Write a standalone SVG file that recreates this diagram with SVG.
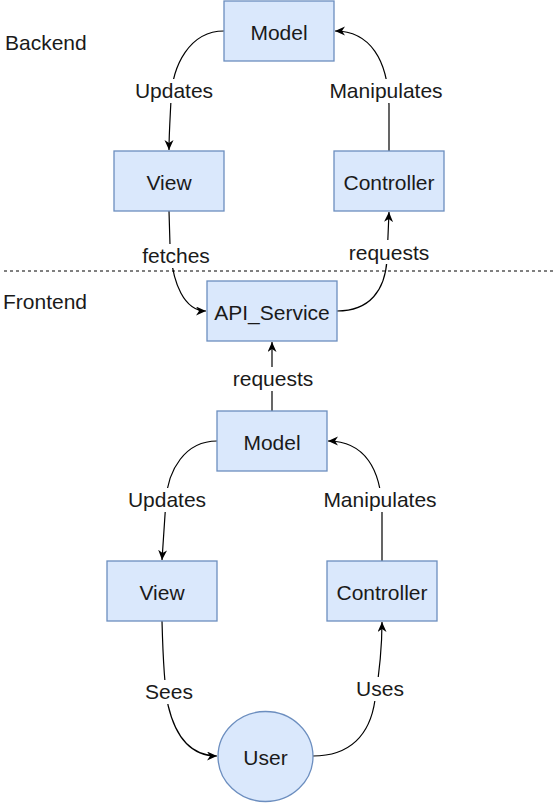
<svg xmlns="http://www.w3.org/2000/svg" width="557" height="803" viewBox="0 0 557 803">
<style>
.node{fill:#dae8fc;stroke:#6c8ebf;stroke-width:1.3}
.t{font-family:"Liberation Sans",Arial,sans-serif;font-size:21px;fill:#1a1a1a;text-anchor:middle}
.tl{font-family:"Liberation Sans",Arial,sans-serif;font-size:21px;fill:#1a1a1a}
.e{fill:none;stroke:#000;stroke-width:1.2;marker-end:url(#arr)}
.lb{fill:#fff}
</style>
<defs>
<marker id="arr" markerUnits="userSpaceOnUse" markerWidth="12" markerHeight="10" refX="10" refY="4.5" orient="auto" viewBox="0 0 12 10">
<path d="M0,0 L10,4.5 L0,9 L3,4.5 Z" fill="#000"/>
</marker>
</defs>
<rect width="557" height="803" fill="#fff"/>
<line x1="4" y1="271" x2="553" y2="271" stroke="#000" stroke-width="1" stroke-dasharray="3,3"/>
<text class="tl" x="5" y="50">Backend</text>
<text class="tl" x="3" y="309">Frontend</text>
<g id="connectors">
<path class="e" d="M224,31 C190,31 172,65 171,100 C170,120 169,135 169,150"/>
<path class="e" d="M389,151 L389,105 C388,60 370,31 335,31"/>
<path class="e" d="M169,211 L170,245 C172,285 185,311 206,311"/>
<path class="e" d="M337,311 C370,311 385,290 387,260 L389,212"/>
<path class="e" d="M272,411 L272,342"/>
<path class="e" d="M217,441 C185,441 168,470 166,500 L162,560"/>
<path class="e" d="M382,561 L382,510 C381,470 365,441 328,441"/>
<path class="e" d="M162,621 C163,660 165,690 168,705 C175,735 190,756 217,756"/>
<path class="e" d="M313,756 C350,756 370,735 375,700 C379,675 382,650 382,622"/>
<g id="lbl-updates-top"><rect class="lb" x="134" y="79" width="81" height="24"/><text class="t" x="174" y="98">Updates</text></g>
<g id="lbl-manip-top"><rect class="lb" x="328" y="79" width="117" height="24"/><text class="t" x="386" y="98">Manipulates</text></g>
<g id="lbl-fetches"><rect class="lb" x="140" y="244" width="72" height="24"/><text class="t" x="176" y="263">fetches</text></g>
<g id="lbl-requests-r"><rect class="lb" x="347" y="240" width="84" height="24"/><text class="t" x="389" y="260">requests</text></g>
<g id="lbl-requests-m"><rect class="lb" x="231" y="367" width="84" height="24"/><text class="t" x="273" y="386">requests</text></g>
<g id="lbl-updates-bot"><rect class="lb" x="127" y="488" width="81" height="24"/><text class="t" x="167" y="507">Updates</text></g>
<g id="lbl-manip-bot"><rect class="lb" x="321" y="488" width="117" height="24"/><text class="t" x="380" y="507">Manipulates</text></g>
<g id="lbl-sees"><rect class="lb" x="143" y="680" width="52" height="24"/><text class="t" x="169" y="699">Sees</text></g>
<g id="lbl-uses"><rect class="lb" x="354" y="677" width="52" height="24"/><text class="t" x="380" y="696">Uses</text></g>
</g>
<g id="model-top"><rect class="node" x="224" y="1" width="110" height="60"/><text class="t" x="279" y="40">Model</text></g>
<g id="view-top"><rect class="node" x="114" y="151" width="110" height="60"/><text class="t" x="169" y="190">View</text></g>
<g id="controller-top"><rect class="node" x="334" y="151" width="110" height="60"/><text class="t" x="389" y="190">Controller</text></g>
<g id="api-service"><rect class="node" x="207" y="281" width="130" height="60"/><text class="t" x="272" y="320">API_Service</text></g>
<g id="model-bot"><rect class="node" x="217" y="411" width="110" height="60"/><text class="t" x="272" y="450">Model</text></g>
<g id="view-bot"><rect class="node" x="107" y="561" width="110" height="60"/><text class="t" x="162" y="600">View</text></g>
<g id="controller-bot"><rect class="node" x="327" y="561" width="110" height="60"/><text class="t" x="382" y="600">Controller</text></g>
<g id="user"><ellipse class="node" cx="265.5" cy="756.5" rx="47.5" ry="45"/><text class="t" x="265.5" y="765">User</text></g>
</svg>
